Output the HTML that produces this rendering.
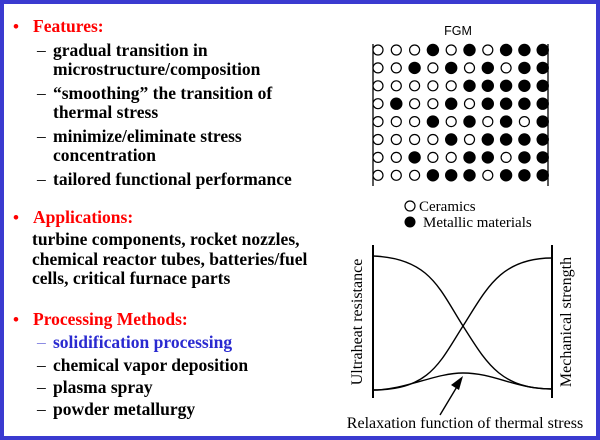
<!DOCTYPE html>
<html><head><style>
html,body{margin:0;padding:0;background:#fff}
svg{display:block}
</style></head><body>
<svg width="600" height="440" xmlns="http://www.w3.org/2000/svg">
<rect x="2" y="2" width="596" height="436" fill="#fff" stroke="#3a3ad0" stroke-width="4"/>
<g font-family="Liberation Serif, serif" font-weight="bold" font-size="17.5">
<g fill="#ff0000">
<text x="13" y="32" font-size="17">•</text><text x="33" y="32">Features:</text>
<text x="13" y="223" font-size="17">•</text><text x="33" y="223">Applications:</text>
<text x="13" y="325" font-size="17">•</text><text x="33" y="325">Processing Methods:</text>
</g>
<g fill="#000">
<g font-weight="normal"><text x="37" y="56">–</text><text x="37" y="99">–</text><text x="37" y="142">–</text><text x="37" y="185">–</text><text x="37" y="371">–</text><text x="37" y="393">–</text><text x="37" y="415">–</text></g>
<text x="53" y="56">gradual transition in</text>
<text x="53" y="75">microstructure/composition</text>
<text x="53" y="99">“smoothing” the transition of</text>
<text x="53" y="118">thermal stress</text>
<text x="53" y="142">minimize/eliminate stress</text>
<text x="53" y="161">concentration</text>
<text x="53" y="185">tailored functional performance</text>
<text x="32" y="245">turbine components, rocket nozzles,</text>
<text x="32" y="265">chemical reactor tubes, batteries/fuel</text>
<text x="32" y="284">cells, critical furnace parts</text>
<text x="53" y="371">chemical vapor deposition</text>
<text x="53" y="393">plasma spray</text>
<text x="53" y="415">powder metallurgy</text>
</g>
<text x="37" y="348" fill="#8080e0" font-weight="normal">–</text><text x="53" y="348" fill="#2a2ad0">solidification processing</text>
</g>
<text x="458" y="35" font-family="Liberation Sans, sans-serif" font-size="12.5" text-anchor="middle">FGM</text>
<line x1="373" y1="44" x2="373" y2="186" stroke="#000" stroke-width="1.3"/>
<line x1="548" y1="44" x2="548" y2="186" stroke="#000" stroke-width="1.3"/>
<g id="grid" stroke="#000" stroke-width="1.2"></g>
<circle cx="410" cy="206" r="5" fill="#fff" stroke="#000" stroke-width="1.2"/>
<circle cx="410" cy="222" r="5.5" fill="#000"/>
<g font-family="Liberation Serif, serif" font-size="15">
<text x="419" y="211">Ceramics</text>
<text x="423" y="227">Metallic materials</text>
</g>
<g stroke="#000" fill="none" stroke-width="1.4">
<line x1="373" y1="245" x2="373" y2="398" stroke-width="2"/>
<line x1="552" y1="245" x2="552" y2="398" stroke-width="2"/>
<path d="M373 256 C430 258 440 290 463 326 C486 362 500 389 552 389"/>
<path d="M373 390 C430 390 440 362 463 326 C486 290 500 258 552 258"/>
<path d="M373 390 C405 390 435 373 463 373 C495 373 515 389 552 389"/>
<line x1="440" y1="415" x2="458" y2="385"/>
</g>
<polygon points="463,376 451,385 459,390" fill="#000"/>
<g font-family="Liberation Serif, serif" font-size="16">
<text x="465" y="428" text-anchor="middle">Relaxation function of thermal stress</text>
<text transform="translate(362,322) rotate(-90)" text-anchor="middle">Ultraheat resistance</text>
<text transform="translate(571,322) rotate(-90)" text-anchor="middle">Mechanical strength</text>
</g>
<script>
var p=["0001010111","0010101011","0000011111","0100101111","0001010101","0000101111","0010011011","0001110111"];
var g=document.getElementById("grid"),ns="http://www.w3.org/2000/svg";
for(var r=0;r<8;r++)for(var c=0;c<10;c++){var e=document.createElementNS(ns,"circle");
e.setAttribute("cx",378+c*18.3);e.setAttribute("cy",50+r*17.9);
if(p[r][c]=="1"){e.setAttribute("r",5.6);e.setAttribute("fill","#000");}else{e.setAttribute("r",5);e.setAttribute("fill","#fff");}
g.appendChild(e);}
</script>
</svg>
</body></html>
